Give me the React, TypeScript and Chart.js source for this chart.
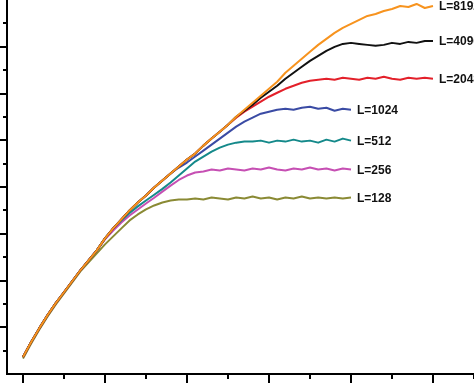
import React, { useEffect, useRef } from "react";
import { Chart, registerables } from "chart.js";

Chart.register(...registerables);

// time axis (shared x values)
const tValues = [
  0.0, 0.1, 0.2, 0.3, 0.4, 0.5, 0.6, 0.7, 0.8, 0.9,
  1.0, 1.1, 1.2, 1.3, 1.4, 1.5, 1.6, 1.7, 1.8, 1.9,
  2.0, 2.1, 2.2, 2.3, 2.4, 2.5, 2.6, 2.7, 2.8, 2.9,
  3.0, 3.1, 3.2, 3.3, 3.4, 3.5, 3.6, 3.7, 3.8, 3.9,
  4.0, 4.1, 4.2, 4.3, 4.4, 4.5, 4.6, 4.7, 4.8, 4.9,
  5.0,
];

const seriesLabels = ["L=8192", "L=4096", "L=2048", "L=1024", "L=512", "L=256", "L=128"];

const w8192 = [
  0.363, 0.683, 0.981, 1.259, 1.515, 1.749, 1.984, 2.219, 2.432, 2.645,
  2.901, 3.115, 3.307, 3.499, 3.669, 3.819, 3.989, 4.139, 4.288, 4.437,
  4.587, 4.715, 4.885, 5.035, 5.184, 5.333, 5.504, 5.653, 5.803, 5.952,
  6.101, 6.251, 6.443, 6.592, 6.741, 6.891, 7.040, 7.168, 7.296, 7.403,
  7.488, 7.573, 7.659, 7.701, 7.765, 7.808, 7.872, 7.851, 7.915, 7.829,
  7.872,
];

const w4096 = [
  0.363, 0.683, 0.981, 1.259, 1.515, 1.749, 1.984, 2.219, 2.432, 2.645,
  2.901, 3.115, 3.307, 3.499, 3.669, 3.819, 3.989, 4.139, 4.288, 4.437,
  4.587, 4.715, 4.885, 5.035, 5.184, 5.333, 5.504, 5.632, 5.760, 5.909,
  6.037, 6.165, 6.315, 6.443, 6.571, 6.699, 6.805, 6.912, 6.997, 7.061,
  7.083, 7.061, 7.040, 7.019, 7.040, 7.083, 7.061, 7.104, 7.083, 7.125,
  7.125,
];

const w2048 = [
  0.363, 0.683, 0.981, 1.259, 1.515, 1.749, 1.984, 2.219, 2.432, 2.645,
  2.901, 3.115, 3.307, 3.499, 3.669, 3.819, 3.989, 4.139, 4.288, 4.437,
  4.587, 4.715, 4.885, 5.035, 5.184, 5.333, 5.483, 5.611, 5.717, 5.824,
  5.931, 6.016, 6.101, 6.165, 6.229, 6.272, 6.293, 6.315, 6.293, 6.336,
  6.315, 6.293, 6.336, 6.315, 6.357, 6.315, 6.293, 6.336, 6.315, 6.336,
  6.315,
];

const w1024 = [
  0.363, 0.683, 0.981, 1.259, 1.515, 1.749, 1.984, 2.219, 2.432, 2.645,
  2.901, 3.115, 3.307, 3.499, 3.669, 3.819, 3.989, 4.139, 4.288, 4.416,
  4.523, 4.651, 4.779, 4.907, 5.035, 5.163, 5.291, 5.397, 5.483, 5.568,
  5.611, 5.653, 5.675, 5.653, 5.696, 5.717, 5.675, 5.696, 5.632, 5.675,
  5.653,
];

const w512 = [
  0.363, 0.683, 0.981, 1.259, 1.515, 1.749, 1.984, 2.219, 2.432, 2.645,
  2.901, 3.115, 3.285, 3.445, 3.585, 3.712, 3.835, 3.960, 4.096, 4.245,
  4.395, 4.544, 4.651, 4.757, 4.843, 4.907, 4.949, 4.971, 4.971, 4.992,
  4.949, 4.992, 4.971, 5.013, 4.971, 4.992, 4.949, 5.013, 4.971, 5.035,
  4.992,
];

const w256 = [
  0.363, 0.683, 0.981, 1.259, 1.515, 1.749, 1.984, 2.219, 2.432, 2.645,
  2.880, 3.070, 3.240, 3.390, 3.520, 3.648, 3.770, 3.900, 4.030, 4.150,
  4.245, 4.309, 4.331, 4.373, 4.352, 4.395, 4.373, 4.352, 4.395, 4.373,
  4.416, 4.373, 4.352, 4.395, 4.373, 4.416, 4.373, 4.395, 4.352, 4.395,
  4.373,
];

const w128 = [
  0.330, 0.650, 0.950, 1.230, 1.490, 1.725, 1.960, 2.197, 2.389, 2.581,
  2.773, 2.944, 3.115, 3.285, 3.413, 3.520, 3.605, 3.669, 3.712, 3.733,
  3.733, 3.755, 3.733, 3.776, 3.755, 3.733, 3.776, 3.755, 3.797, 3.755,
  3.776, 3.733, 3.776, 3.755, 3.797, 3.755, 3.776, 3.755, 3.776, 3.755,
  3.776,
];

const xTickValues = [0, 0.5, 1, 1.5, 2, 2.5, 3, 3.5, 4, 4.5, 5, 5.5];
const yTickValues = [0.5, 1, 1.5, 2, 2.5, 3, 3.5, 4, 4.5, 5, 5.5, 6, 6.5, 7, 7.5];

const seriesColors = [
  "#f7931e",
  "#111111",
  "#e3202a",
  "#3a4ba4",
  "#14898a",
  "#c64fb3",
  "#8a8a34",
];

export default function App() {
  const ref = useRef<HTMLCanvasElement | null>(null);

  useEffect(() => {
    document.body.style.margin = "0";
    const canvas = ref.current;
    if (!canvas) return;
    const series = [w8192, w4096, w2048, w1024, w512, w256, w128];
    const datasets = series.map((ys, i) => ({
      label: seriesLabels[i],
      data: ys.map((y, k) => ({ x: tValues[k], y })),
      borderColor: seriesColors[i],
      backgroundColor: seriesColors[i],
      borderWidth: 2,
      pointRadius: 0,
      tension: 0,
      fill: false,
      borderJoinStyle: "round" as const,
    }));

    const tickPlugin = {
      id: "axisTicks",
      afterDraw(chart: any) {
        const { ctx, chartArea, scales } = chart;
        ctx.save();
        ctx.strokeStyle = "#000";
        ctx.lineWidth = 2;
        yTickValues.forEach((v) => {
          const py = Math.round(scales.y.getPixelForValue(v));
          const len = Number.isInteger(v) ? 7 : 4;
          ctx.beginPath();
          ctx.moveTo(chartArea.left - len, py);
          ctx.lineTo(chartArea.left - 1, py);
          ctx.stroke();
        });
        xTickValues.forEach((v) => {
          const px = Math.round(scales.x.getPixelForValue(v));
          const len = Number.isInteger(v) ? 10 : 5;
          ctx.beginPath();
          ctx.moveTo(px, chartArea.bottom + 1);
          ctx.lineTo(px, chartArea.bottom + len);
          ctx.stroke();
        });
        ctx.restore();
      },
    };

    const labelPlugin = {
      id: "endLabels",
      afterDatasetsDraw(chart: any) {
        const { ctx } = chart;
        ctx.save();
        ctx.font = 'bold 12px "Liberation Sans", Arial, sans-serif';
        ctx.fillStyle = "#111";
        ctx.textBaseline = "middle";
        ctx.textAlign = "left";
        chart.data.datasets.forEach((ds: any, i: number) => {
          const meta = chart.getDatasetMeta(i);
          const last = meta.data[meta.data.length - 1];
          if (!last) return;
          ctx.fillText(ds.label, last.x + 6, last.y + 1);
        });
        ctx.restore();
      },
    };

    const chart = new Chart(canvas, {
      type: "line",
      data: { datasets },
      options: {
        responsive: false,
        animation: false,
        events: [],
        layout: { padding: { left: 7, right: 0, top: 0, bottom: 9 } },
        plugins: { legend: { display: false }, tooltip: { enabled: false } },
        scales: {
          x: {
            type: "linear",
            min: -0.195,
            max: 5.5,
            ticks: { display: false },
            grid: { drawOnChartArea: false, drawTicks: false },
            border: { display: true, color: "#000", width: 2 },
          },
          y: {
            type: "linear",
            min: 0,
            max: 8,
            ticks: { display: false },
            grid: { drawOnChartArea: false, drawTicks: false },
            border: { display: true, color: "#000", width: 2 },
          },
        },
      },
      plugins: [tickPlugin, labelPlugin],
    });
    return () => chart.destroy();
  }, []);

  return (
    <canvas
      ref={ref}
      width={474}
      height={383}
      style={{ display: "block", position: "absolute", left: 0, top: 0, width: 474, height: 383 }}
    />
  );
}
